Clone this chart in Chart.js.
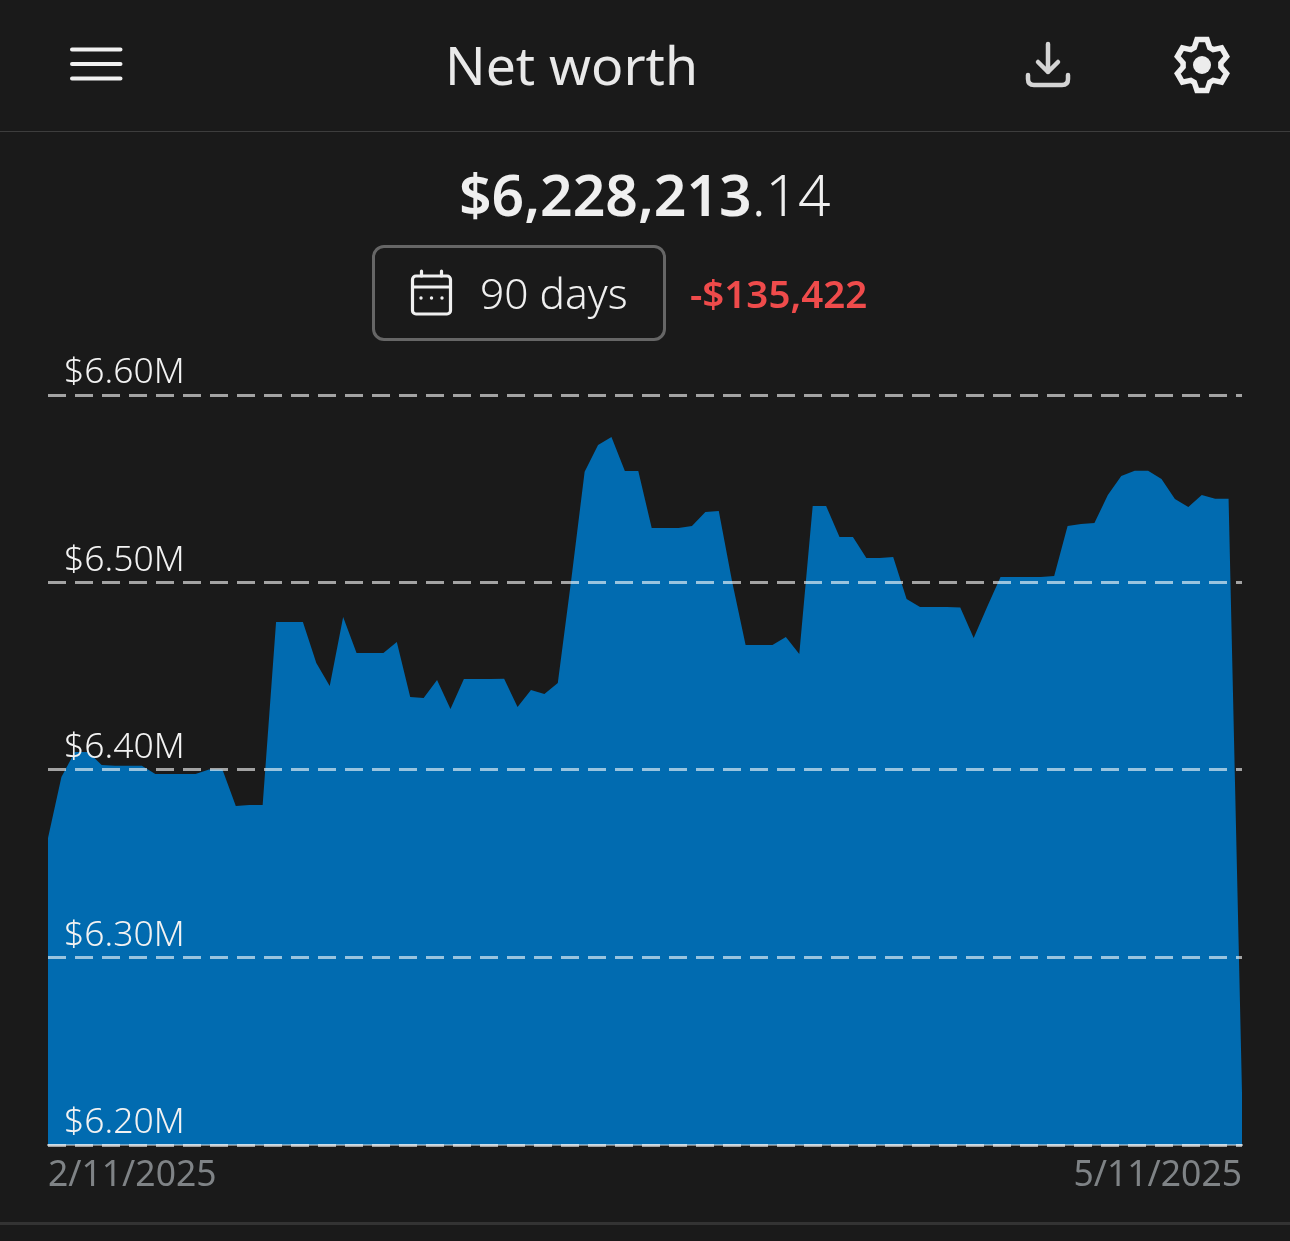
<!DOCTYPE html>
<html>
<head>
<meta charset="utf-8">
<script src="https://cdn.jsdelivr.net/npm/chart.js@4"></script>
<style>
html,body{margin:0;padding:0;background:#1a1a1a;width:1290px;height:1241px;overflow:hidden;font-family:"Noto Sans",sans-serif}
.t{position:absolute;white-space:nowrap;line-height:1}
#c{position:absolute;left:0;top:0}
.rule{position:absolute;left:0;width:1290px}
svg{position:absolute;left:0;top:0}
</style>
</head>
<body>
<canvas id="c" width="1290" height="1241"></canvas>
<div class="rule" style="top:131px;height:1px;background:#3d3d3d"></div>
<div class="rule" style="top:1222px;height:3px;background:#333"></div>
<div class="t" id="title" style="left:445px;top:38px;font-size:53.500px;color:#e9e9e9">Net worth</div>
<div class="t" id="total" style="left:459px;top:166px;font-size:57px;font-weight:600;color:#efefef">$6,228,213<span style="font-weight:300">.14</span></div>
<div style="position:absolute;left:372px;top:245px;width:288px;height:90px;border:3px solid #666;border-radius:12px"></div>
<div class="t" id="range" style="left:480px;top:272px;font-size:42.500px;font-weight:300;color:#efefef">90 days</div>
<div class="t" id="delta" style="left:690px;top:274px;font-size:38.500px;font-weight:600;color:#ef4b4b">-$135,422</div>
<svg width="1290" height="341" fill="none">
  <g stroke="#f0f0f0" stroke-width="4" stroke-linecap="round">
    <path d="M72 49.5H120.500M72 64H120.500M72 78.500H120.500"/>
  </g>
  <g stroke="#d4d4d4" stroke-width="4.5" stroke-linecap="round" stroke-linejoin="round">
    <path d="M1048 44V72M1038 62L1048 72L1058 62"/>
    <path d="M1028 75V79Q1028 85 1034 85H1062Q1068 85 1068 79V75"/>
  </g>
  <path id="gear" stroke="#efefef" stroke-width="5.5" stroke-linejoin="miter"/>
  <circle cx="1202" cy="65" r="9" fill="#ececec"/>
  <g stroke="#efefef" stroke-width="3.2" stroke-linecap="round" stroke-linejoin="round">
    <rect x="412.5" y="276" width="38" height="38" rx="3.5"/>
    <path d="M412.5 287H450.5M421.500 271V276M441.500 271V276"/>
  </g>
  <g fill="#efefef"><circle cx="421" cy="298" r="1.700"/><circle cx="431.500" cy="298" r="1.700"/><circle cx="442" cy="298" r="1.700"/></g>
</svg>
<script>
const dates = [
"2/11/2025","2/12/2025","2/13/2025","2/14/2025","2/15/2025","2/16/2025","2/17/2025","2/18/2025","2/19/2025","2/20/2025",
"2/21/2025","2/22/2025","2/23/2025","2/24/2025","2/25/2025","2/26/2025","2/27/2025","2/28/2025","3/1/2025","3/2/2025",
"3/3/2025","3/4/2025","3/5/2025","3/6/2025","3/7/2025","3/8/2025","3/9/2025","3/10/2025","3/11/2025","3/12/2025",
"3/13/2025","3/14/2025","3/15/2025","3/16/2025","3/17/2025","3/18/2025","3/19/2025","3/20/2025","3/21/2025","3/22/2025",
"3/23/2025","3/24/2025","3/25/2025","3/26/2025","3/27/2025","3/28/2025","3/29/2025","3/30/2025","3/31/2025","4/1/2025",
"4/2/2025","4/3/2025","4/4/2025","4/5/2025","4/6/2025","4/7/2025","4/8/2025","4/9/2025","4/10/2025","4/11/2025",
"4/12/2025","4/13/2025","4/14/2025","4/15/2025","4/16/2025","4/17/2025","4/18/2025","4/19/2025","4/20/2025","4/21/2025",
"4/22/2025","4/23/2025","4/24/2025","4/25/2025","4/26/2025","4/27/2025","4/28/2025","4/29/2025","4/30/2025","5/1/2025",
"5/2/2025","5/3/2025","5/4/2025","5/5/2025","5/6/2025","5/7/2025","5/8/2025","5/9/2025","5/10/2025","5/11/2025"];

const netWorth = [
6.3637,6.3963,6.4096,6.4096,6.4027,6.4023,6.4023,6.4023,6.3979,6.3979,
6.3979,6.3979,6.4003,6.4003,6.3808,6.3813,6.3813,6.4789,6.4789,6.4789,
6.4571,6.4448,6.4816,6.4624,6.4624,6.4624,6.4683,6.4389,6.4384,6.4480,
6.4325,6.4485,6.4485,6.4485,6.4487,6.4336,6.4427,6.4405,6.4464,6.5013,
6.5591,6.5733,6.5776,6.5595,6.5595,6.5291,6.5291,6.5291,6.5301,6.5376,
6.5381,6.5003,6.4667,6.4667,6.4667,6.4709,6.4619,6.5408,6.5408,6.5243,
6.5243,6.5131,6.5131,6.5136,6.4912,6.4869,6.4869,6.4869,6.4867,6.4704,
6.4869,6.5029,6.5029,6.5029,6.5029,6.5035,6.5301,6.5312,6.5317,6.5467,
6.5568,6.5596,6.5596,6.5552,6.5445,6.5403,6.5467,6.5447,6.5447,6.228213];

const yTicks = [6.2,6.3,6.4,6.5,6.6];

// gear outline (icon only)
(function(){
  const cx=1202,cy=65,pts=[];
  for(let k=0;k<6;k++){
    const a=k*60-90;
    [[19,-24],[26,-11],[26,11],[19,24]].forEach(([r,d])=>{
      const t=(a+d)*Math.PI/180;
      pts.push((cx+r*Math.cos(t)).toFixed(1)+' '+(cy+r*Math.sin(t)).toFixed(1));
    });
  }
  document.getElementById('gear').setAttribute('d','M'+pts.join('L')+'Z');
})();

new Chart(document.getElementById('c'),{
  type:'line',
  data:{labels:dates,datasets:[{
    label:'Net worth',data:netWorth,
    fill:'start',backgroundColor:'#016bb0',borderWidth:0,pointRadius:0,tension:0
  }]},
  options:{
    responsive:false,animation:false,devicePixelRatio:1,
    layout:{padding:{left:48,right:48,top:395,bottom:0}},
    plugins:{legend:{display:false},tooltip:{enabled:false},title:{display:false}},
    scales:{
      x:{
        offset:false,
        afterFit(s){s.height=96;},
        grid:{display:false,drawTicks:false},
        border:{display:true,color:'rgba(255,255,255,0.45)',width:2,z:1},
        ticks:{
          autoSkip:false,maxRotation:0,minRotation:0,align:'inner',padding:10,
          color:'#7f8386',font:{family:'"Noto Sans"',size:35.5,weight:'400'},
          callback(v,i,all){return (i===0||i===all.length-1)?dates[i]:'';}
        }
      },
      y:{
        min:6.2,max:6.6,
        afterFit(s){s.width=0;},
        afterBuildTicks(s){s.ticks=yTicks.map(v=>({value:v}));},
        grid:{color:'rgba(255,255,255,0.6)',lineWidth:3,drawTicks:false,z:1},
        border:{display:false,dash:[18,9]},
        ticks:{
          mirror:true,padding:16,labelOffset:-22,z:2,
          color:'#f2f2f2',font:{family:'"Noto Sans"',size:35.5,weight:'300'},
          callback(v){return '$'+v.toFixed(2)+'M';}
        }
      }
    }
  }
});
</script>
</body>
</html>
